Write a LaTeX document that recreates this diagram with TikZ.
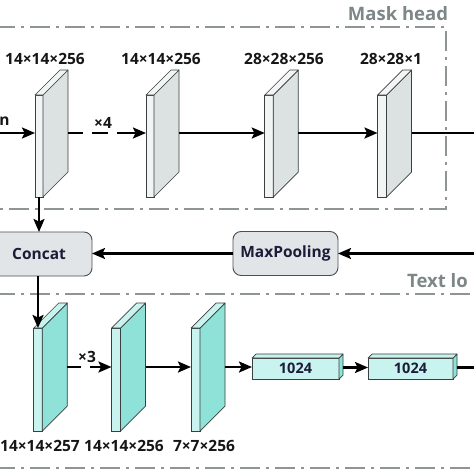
\documentclass[tikz,border=0pt]{standalone}
\usepackage{fontspec}
\setmainfont{Open Sans}
\usetikzlibrary{arrows.meta,calc}
\definecolor{slabfront}{HTML}{F3F5F5}
\definecolor{slabside}{HTML}{DCE1E1}
\definecolor{tealfront}{HTML}{C9F3EE}
\definecolor{tealside}{HTML}{8FE2D8}
\definecolor{boxfill}{HTML}{E2E5E7}
\definecolor{boxedge}{HTML}{4A4F52}
\definecolor{headgray}{HTML}{7D8787}
\definecolor{dashgray}{HTML}{8F9494}
\definecolor{edgecol}{HTML}{3A3F3F}
\definecolor{labcol}{HTML}{161616}
\definecolor{boxtext}{HTML}{1C1C38}
\newcommand\fmap[8]{% name, x, y, width, height, front, side, exit offset
  \node[slabface, fill=#6, minimum width=#4pt, minimum height=#5pt] (#1) at (#2,#3) {};
  \filldraw[slabedge, fill=#7] (#1.north east) -- ++(25,-25) -- ++(0,#5) -- ++(-25,25) -- cycle;
  \filldraw[slabedge, fill=#6] (#1.north west) -- ++(25,-25) -- ++(#4,0) -- (#1.north east) -- cycle;
  \coordinate (#1o) at ($(#1.east)+(25,#8)$);
}
\newcommand\fcbox[4]{% name, x, y, width
  \node[fcface, minimum width=#4pt] (#1) at (#2,#3) {1024};
  \filldraw[slabedge, fill=tealside] (#1.north east) -- ++(4,-4) -- ++(0,21) -- ++(-4,4) -- cycle;
  \filldraw[slabedge, fill=tealfront] (#1.north west) -- ++(4,-4) -- ++(#4,0) -- (#1.north east) -- cycle;
  \coordinate (#1o) at ($(#1.east)+(4,-1)$);
}
\begin{document}
\begin{tikzpicture}[x=1pt,y=-1pt,
  slabface/.style={draw=edgecol, line width=0.8pt, inner sep=0, outer sep=0},
  slabedge/.style={draw=edgecol, line width=0.7pt, line join=round},
  fcface/.style={draw=edgecol, line width=0.8pt, fill=tealfront, inner sep=0, outer sep=0,
    minimum height=21pt, font=\fontsize{14.5}{16}\selectfont\bfseries, text=boxtext},
  lab/.style={font=\fontsize{15.5}{18}\selectfont\bfseries, text=labcol, inner sep=0},
  head/.style={font=\fontsize{18.5}{22}\selectfont\bfseries, text=headgray, inner sep=0},
  opbox/.style={draw=boxedge, line width=0.9pt, fill=boxfill, rounded corners=8pt,
    inner sep=0, outer sep=0, minimum height=44pt,
    font=\fontsize{15.5}{18}\selectfont\bfseries, text=boxtext},
  arr/.style={line width=2.2pt, -{Stealth[length=13pt,width=11pt,inset=2.5pt]}},
  plain/.style={line width=2.2pt},
  region/.style={draw=dashgray, line width=1.4pt, dash pattern=on 20pt off 6pt on 3pt off 6pt}]
\useasboundingbox (0,0) rectangle (474,474);
\fill[white] (0,0) rectangle (474,474);

% region borders
\draw[region] (-5,27) -- (446,27) -- (446,209) -- (-5,209);
\draw[region] (-5,294) -- (480,294);
\draw[region] (-5,468) -- (480,468);
\node[head] (mh) at (398,14) {Mask head};
\node[head, anchor=west] (tl) at (407,281) {Text lo};

% mask head feature maps
\fmap{s1}{39}{146}{8}{102}{slabfront}{slabside}{-13}
\fmap{s2}{150}{146}{8}{102}{slabfront}{slabside}{-13}
\fmap{s3}{269}{146}{8.5}{102}{slabfront}{slabside}{-13}
\fmap{s4}{382}{146}{9}{102}{slabfront}{slabside}{-13}
\node[lab] (ls1) at (45,59) {14×14×256};
\node[lab] (ls2) at (161,59) {14×14×256};
\node[lab] (ls3) at (284,59) {28×28×256};
\node[lab] (ls4) at (391,59) {28×28×1};

% text branch feature maps
\fmap{t1}{38}{379.5}{8.5}{103}{tealfront}{tealside}{-12.5}
\fmap{t2}{116}{379.5}{9}{103}{tealfront}{tealside}{-12.5}
\fmap{t3}{195.5}{379.5}{9}{103}{tealfront}{tealside}{-12.5}
\node[lab] (lt1) at (40,446) {14×14×257};
\node[lab] (lt2) at (124,446) {14×14×256};
\node[lab] (lt3) at (204,446) {7×7×256};
\fcbox{f1}{295.5}{368.5}{87}
\fcbox{f2}{410.5}{368.5}{85}

% operation boxes
\node[opbox, minimum width=106pt] (cc) at (39,254) {Concat};
\node[opbox, minimum width=105pt] (mp) at (285.5,253.5) {MaxPooling};

% free ends
\coordinate (tin) at (0,133);
\coordinate (tout) at (480,133);
\coordinate (rin) at (480,253.5);
\coordinate (fout) at (480,367.5);
\node[lab] (nin) at (4.5,121) {n};

% connectors, mask head
\draw[arr] (tin) -- (tin -| s1.west);
\draw[arr, dash pattern=on 15pt off 9pt on 16pt off 9pt on 60pt] (s1o) -- (s1o -| s2.west);
\node[lab] (x4) at (103,123) {×4};
\draw[arr] (s2o) -- (s2o -| s3.west);
\draw[arr] (s3o) -- (s3o -| s4.west);
\draw[plain] (s4o) -- (tout);

% connectors, middle
\draw[arr] (s1.south) -- (s1.south |- cc.north);
\draw[arr] (rin) -- (mp.east);
\draw[arr] (mp.west) -- (mp.west -| cc.east);
\draw[arr] (t1.north |- cc.south) -- (t1.north);

% connectors, text branch
\draw[arr, dash pattern=on 14pt off 9pt on 60pt] (t1o) -- (t1o -| t2.west);
\node[lab] (x3) at (87,357) {×3};
\draw[arr] (t2o) -- (t2o -| t3.west);
\draw[arr] (t3o) -- (t3o -| f1.west);
\draw[arr] (f1o) -- (f1o -| f2.west);
\draw[plain] (f2o) -- (fout);
\end{tikzpicture}
\end{document}
